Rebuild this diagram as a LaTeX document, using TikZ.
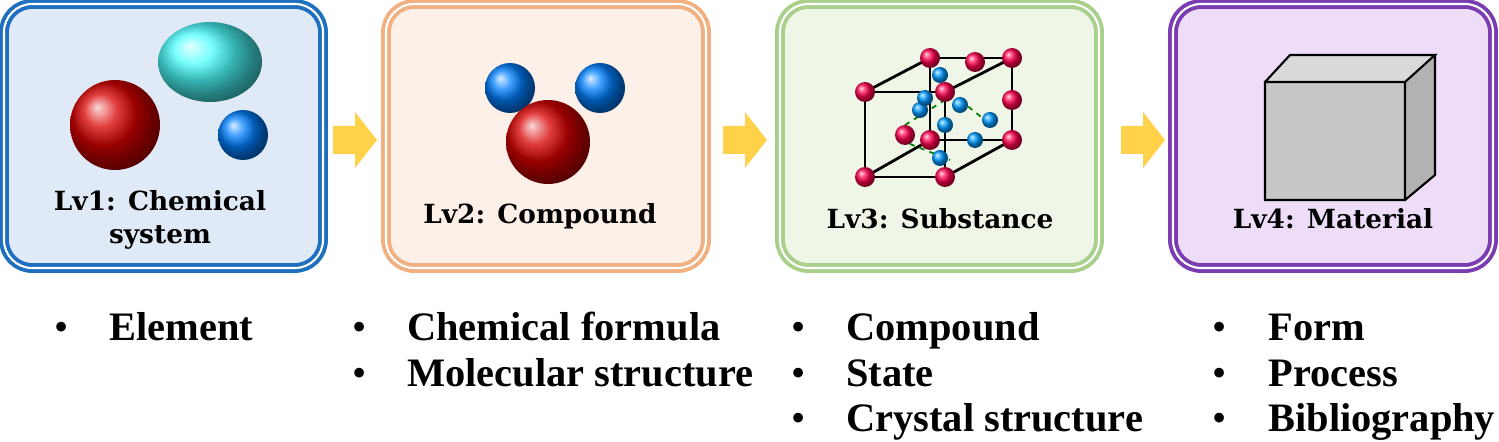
\documentclass[tikz,border=0pt]{standalone}
\usepackage{fontspec}
\setmainfont{Liberation Serif}
\newfontfamily\labfont{DejaVu Serif}
\definecolor{bA}{HTML}{1F6FC0}\definecolor{bAf}{HTML}{DFEAF6}
\definecolor{bB}{HTML}{F0B080}\definecolor{bBf}{HTML}{FDF0E8}
\definecolor{bC}{HTML}{A8D08A}\definecolor{bCf}{HTML}{EFF6E8}
\definecolor{bD}{HTML}{7A3CB0}\definecolor{bDf}{HTML}{EEDDF8}
\definecolor{arr}{HTML}{FFD24A}
\begin{document}
\begin{tikzpicture}[x=0.02cm,y=-0.02cm,
 box/.style={draw=#1,line width=2.2pt,rounded corners=16pt,double=white,double distance=1.2pt},
 lab/.style={font=\labfont\bfseries\fontsize{15}{19}\selectfont,align=center},
 item/.style={font=\bfseries\fontsize{23}{27}\selectfont,anchor=base west,inner sep=0pt},
 bul/.style={font=\fontsize{23}{27}\selectfont,anchor=base},
 ball/.style={shading=ball,ball color=#1}]
\useasboundingbox (0,0) rectangle (1499,442);
% boxes
\fill[bAf,rounded corners=16pt] (4,4) rectangle (323,268);
\draw[box=bA] (4,4) rectangle (323,268);
\fill[bBf,rounded corners=16pt] (386,4) rectangle (706,268);
\draw[box=bB] (386,4) rectangle (706,268);
\fill[bCf,rounded corners=16pt] (780,4) rectangle (1099,268);
\draw[box=bC] (780,4) rectangle (1099,268);
\fill[bDf,rounded corners=16pt] (1173,4) rectangle (1493,268);
\draw[box=bD] (1173,4) rectangle (1493,268);
% arrows
\foreach \x in {333,723,1121}
 \fill[arr] (\x,126)--(\x+22,126)--(\x+22,112)--(\x+44,140)--(\x+22,168)--(\x+22,154)--(\x,154)--cycle;
% box1 balls
\shade[ball=cyan!70!white] (210,62) ellipse (52 and 40);
\shade[ball=red!85!black] (115,125) circle (45);
\shade[ball=blue!50!cyan] (243,135) circle (25);
% box2 balls
\shade[ball=blue!50!cyan] (510,88) circle (25);
\shade[ball=blue!50!cyan] (600,88) circle (25);
\shade[ball=red!85!black] (548,142) circle (42);
% box3 lattice
\begin{scope}[line width=1.6pt]
\draw (865,92) rectangle (945,177);
\draw (930,58) rectangle (1012,140);
\draw (865,92)--(930,58) (945,92)--(1012,58) (945,177)--(1012,140) (865,177)--(930,140);
\draw[green!50!black,dashed,line width=1pt] (905,125)--(945,100) (900,140)--(950,160) (960,100)--(985,120);
\end{scope}
\foreach \p in {(865,92),(945,92),(865,177),(945,177),(930,58),(1012,58),(1012,140),(930,140),(905,135),(975,62),(1012,100)}
 \shade[ball=red!70!magenta] \p circle (10);
\foreach \p in {(940,75),(920,110),(960,105),(990,120),(945,125),(940,158),(975,140),(925,98)}
 \shade[ball=blue!40!cyan] \p circle (8);
% box4 cube
\fill[gray!45] (1265,82) rectangle (1405,200);
\fill[gray!30] (1265,82)--(1290,55)--(1435,55)--(1405,82)--cycle;
\fill[gray!60] (1405,82)--(1435,55)--(1435,175)--(1405,200)--cycle;
\draw[line width=1.2pt] (1265,82) rectangle (1405,200) (1265,82)--(1290,55)--(1435,55)--(1405,82) (1435,55)--(1435,175)--(1405,200);
% labels
\node[lab] (l1) at (160,220) {Lv1: Chemical\\system};
\node[lab] (l2) at (540,216) {Lv2: Compound};
\node[lab] (l3) at (940,219) {Lv3: Substance};
\node[lab] (l4) at (1333,219) {Lv4: Material};
% lists
\node[bul] at (62,341) {•}; \node[item] at (109,341) {Element};
\node[bul] at (360,341) {•}; \node[item] at (407,341) {Chemical formula};
\node[bul] at (360,387) {•}; \node[item] at (407,387) {Molecular structure};
\node[bul] at (799,341) {•}; \node[item] at (846,341) {Compound};
\node[bul] at (799,387) {•}; \node[item] at (846,387) {State};
\node[bul] at (799,432) {•}; \node[item] at (846,432) {Crystal structure};
\node[bul] at (1220,341) {•}; \node[item] at (1268,341) {Form};
\node[bul] at (1220,387) {•}; \node[item] at (1268,387) {Process};
\node[bul] at (1220,432) {•}; \node[item] at (1268,432) {Bibliography};
\end{tikzpicture}
\end{document}
